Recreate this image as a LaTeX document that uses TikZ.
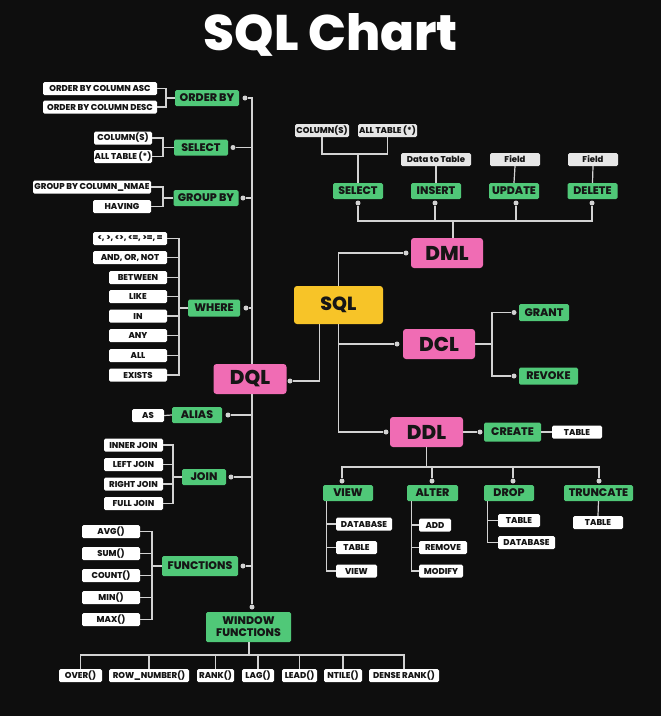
\documentclass[tikz,border=0pt]{standalone}
\usepackage{fontspec}
\setmainfont{Poppins}[BoldFont={Poppins ExtraBold}]
\definecolor{bg}{HTML}{0E0E0E}
\definecolor{ink}{HTML}{161616}
\definecolor{wire}{HTML}{D2D2D2}
\definecolor{paper}{HTML}{E6E6E6}
\definecolor{sqlgreen}{HTML}{50C878}
\definecolor{sqlpink}{HTML}{F06CB4}
\definecolor{sqlyellow}{HTML}{F7C428}
\tikzset{
  box/.style={rounded corners=1.5pt, inner sep=0pt, text=ink, align=center,
    font=\bfseries\fontsize{8.5}{9}\selectfont},
  leaf/.style={box, fill=white, minimum height=13},
  tag/.style={box, fill=paper, minimum height=13},
  cmd/.style={box, fill=sqlgreen, minimum height=16,
    font=\bfseries\fontsize{11}{12}\selectfont},
  lang/.style={box, fill=sqlpink, minimum width=73, minimum height=30,
    rounded corners=3pt, font=\bfseries\fontsize{20}{21}\selectfont},
  link/.style={draw=wire, line width=1.2pt},
  dot/.style={circle, fill=wire, inner sep=0pt, minimum size=5},
}
\begin{document}
\begin{tikzpicture}[x=1pt, y=-1pt]
  \fill[bg] (0,0) rectangle (661,716);
  \useasboundingbox (0,0) rectangle (661,716);
  \node[anchor=base, text=white, font=\bfseries\fontsize{50}{52}\selectfont] (title) at (331,50) {SQL Chart};

  % core
  \node[box, fill=sqlyellow, minimum width=89, minimum height=38, rounded corners=3pt,
    font=\bfseries\fontsize{19}{20}\selectfont] (sql) at (338.5,305) {SQL};
  \node[lang] (dql) at (250,379) {DQL};
  \node[lang, minimum width=72] (dml) at (447,253) {DML};
  \node[lang, minimum width=72] (dcl) at (439,344) {DCL};
  \node[lang] (ddl) at (426.5,432) {DDL};
  \node[dot] (dql-d) at (290,381) {};
  \node[dot] (dml-d) at (406,253) {};
  \node[dot] (dcl-d) at (397,344) {};
  \node[dot] (ddl-d) at (386,432) {};
  \draw[link] (dml-d) -| (sql.north);
  \draw[link] (dql-d) -| ([xshift=-19pt]sql.south);
  \draw[link] (sql.south) |- (ddl-d);
  \draw[link] (dcl-d) -- (dcl-d -| sql.south);

  % DQL
  \node[cmd, minimum width=64] (orderby) at (207,98) {ORDER BY};
  \node[cmd, minimum width=54] (select) at (201,147.5) {SELECT};
  \node[cmd, minimum width=65] (groupby) at (206,198) {GROUP BY};
  \node[cmd, minimum width=52, minimum height=17] (where) at (214,308) {WHERE};
  \node[cmd, minimum width=50] (alias) at (197,415) {ALIAS};
  \node[cmd, minimum width=44] (join) at (204,477) {JOIN};
  \node[cmd, minimum width=76, minimum height=20] (functions) at (200,566) {FUNCTIONS};
  \node[cmd, minimum width=85, minimum height=30] (window) at (248.5,627) {WINDOW\\FUNCTIONS};
  \node[dot] (orderby-d) at (245,98) {};
  \node[dot] (select-d) at (233,147.5) {};
  \node[dot] (groupby-d) at (243,198) {};
  \node[dot] (where-d) at (246,308) {};
  \node[dot] (alias-d) at (228,415) {};
  \node[dot] (join-d) at (231,477) {};
  \node[dot] (functions-d) at (243,566) {};
  \node[dot] (window-d) at (252,607) {};
  \coordinate (trunk) at (252,98);
  \draw[link] (orderby-d) -- (trunk) -- (trunk |- dql.north);
  \draw[link] (dql.south -| trunk) -- (window-d);
  \foreach \n in {select,groupby,where,alias,join,functions}
    \draw[link] (\n-d) -- (\n-d -| trunk);

  \node[leaf, minimum width=114] (asc) at (100,88.5) {ORDER BY COLUMN ASC};
  \node[leaf, minimum width=114] (desc) at (100,107) {ORDER BY COLUMN DESC};
  \coordinate (orderby-b) at (166,98);
  \draw[link] (asc.east) -| (orderby-b) |- (desc.east);
  \draw[link] (orderby-b) -- (orderby.west);

  \node[leaf, minimum width=58] (cols) at (123,138) {COLUMN(S)};
  \node[leaf, minimum width=58] (alltab) at (123,156.5) {ALL TABLE (*)};
  \coordinate (select-b) at (163,147.5);
  \draw[link] (cols.east) -| (select-b) |- (alltab.east);
  \draw[link] (select-b) -- (select.west);

  \node[leaf, minimum width=118] (gbcol) at (92,187) {GROUP BY COLUMN\_NMAE};
  \node[leaf, minimum width=58] (having) at (122,206.5) {HAVING};
  \coordinate (groupby-b) at (163,198);
  \draw[link] (gbcol.east) -| (groupby-b) |- (having.east);
  \draw[link] (groupby-b) -- (groupby.west);

  \node[leaf, minimum width=74] (ops) at (130,238.5) {<, >, <>, <=, >=, =};
  \node[leaf, minimum width=74] (logic) at (130,257.5) {AND, OR, NOT};
  \foreach \n/\y/\t in {between/277.5/BETWEEN, like/296.5/LIKE, in/316/IN,
      any/335.5/ANY, all/355.5/ALL, exists/375/EXISTS}
    \node[leaf, minimum width=58] (\n) at (138,\y) {\t};
  \coordinate (where-b) at (179,308);
  \foreach \n in {ops,logic,between,like,in,any,all,exists}
    \draw[link] (\n.east) -| (where-b);
  \draw[link] (where-b) -- (where.west);

  \node[leaf, minimum width=32] (as) at (148,415.5) {AS};
  \draw[link] (as.east) -- (alias.west);

  \foreach \n/\y/\t in {inner/445/INNER JOIN, left/464.5/LEFT JOIN,
      right/484/RIGHT JOIN, full/503.5/FULL JOIN}
    \node[leaf, minimum width=59] (\n) at (133.5,\y) {\t};
  \coordinate (join-b) at (173,477);
  \foreach \n in {inner,left,right,full}
    \draw[link] (\n.east) -| (join-b);
  \draw[link] (join-b) -- (join.west);

  \foreach \n/\y/\t in {avg/531.5/AVG(), sum/553.5/SUM(), count/575.5/COUNT(),
      min/597.5/MIN(), max/619.5/MAX()}
    \node[leaf, minimum width=58] (\n) at (111,\y) {\t};
  \coordinate (functions-b) at (152,566);
  \foreach \n in {avg,sum,count,min,max}
    \draw[link] (\n.east) -| (functions-b);
  \draw[link] (functions-b) -- (functions.west);

  \foreach \n/\x/\w/\t in {over/80.5/43/OVER(), rownum/149/80/ROW\_NUMBER(),
      rank/215.5/37/RANK(), lag/258/32/LAG(), lead/299.5/35/LEAD(),
      ntile/343/38/NTILE(), dense/404/70/DENSE RANK()}
    \node[leaf, minimum width=\w] (\n) at (\x,675.5) {\t};
  \coordinate (window-b) at (249,655);
  \draw[link] (window-b) -- (window-b |- window.south);
  \foreach \n in {over,rownum,rank,lag,lead,ntile,dense}
    \draw[link] (window-b) -| (\n.north);

  % DML
  \foreach \n/\x/\t in {rselect/358/SELECT, insert/436/INSERT,
      update/514/UPDATE, delete/592.5/DELETE}
    \node[cmd, minimum width=50] (\n) at (\x,191) {\t};
  \foreach \n/\x in {rselect/358, insert/435, update/516, delete/592}
    \node[dot] (\n-d) at (\x,203) {};
  \coordinate (dml-b) at (453,221);
  \draw[link] (dml-b) -- (dml-b |- dml.north);
  \foreach \n in {rselect,insert,update,delete}
    \draw[link] (dml-b) -| (\n-d);
  \node[tag, minimum width=54] (rcols) at (322,130.5) {COLUMN(S)};
  \node[tag, minimum width=59] (ralltab) at (387.5,130.5) {ALL TABLE (*)};
  \coordinate (rselect-b) at (358,154);
  \draw[link] (rcols.south) |- (rselect-b) -| (ralltab.south);
  \draw[link] (rselect-b) -- (rselect.north);
  \node[tag, minimum width=70] (datatab) at (436,159.5) {Data to Table};
  \node[tag, minimum width=50] (ufield) at (515,159.5) {Field};
  \node[tag, minimum width=50] (dfield) at (593,159.5) {Field};
  \draw[link] (insert.north) -- (datatab.south);
  \draw[link] (update.north) -- (ufield.south);
  \draw[link] (delete.north) -- (dfield.south);

  % DCL
  \node[cmd, minimum width=50, minimum height=17] (grant) at (544,312.5) {GRANT};
  \node[cmd, minimum width=59, minimum height=17] (revoke) at (548.5,376) {REVOKE};
  \node[dot] (grant-d) at (514,312.5) {};
  \node[dot] (revoke-d) at (514,376) {};
  \coordinate (dcl-b) at (492,344);
  \draw[link] (dcl.east) -- (dcl-b);
  \draw[link] (grant-d) -| (dcl-b);
  \draw[link] (revoke-d) -| (dcl-b);

  % DDL
  \node[cmd, minimum width=57, minimum height=19] (create) at (512.5,432) {CREATE};
  \node[dot] (create-d) at (480,432) {};
  \node[leaf, minimum width=50] (ctable) at (577,432) {TABLE};
  \draw[link] (ddl.east) -- (create-d);
  \draw[link] (create.east) -- (ctable.west);
  \node[cmd, minimum width=50] (view) at (348,493) {VIEW};
  \node[cmd, minimum width=51] (alter) at (432.5,493) {ALTER};
  \node[cmd, minimum width=50] (drop) at (509,493) {DROP};
  \node[cmd, minimum width=69] (trunc) at (598.5,493) {TRUNCATE};
  \foreach \n/\x in {view/342, alter/432, drop/513, trunc/599}
    \node[dot] (\n-d) at (\x,481) {};
  \coordinate (ddl-b) at (426.5,467);
  \draw[link] (ddl.south) -- (ddl-b);
  \foreach \n in {view,alter,drop,trunc}
    \draw[link] (ddl-b) -| (\n-d);

  \node[leaf, minimum width=56] (vdb) at (364,524) {DATABASE};
  \node[leaf, minimum width=41] (vtable) at (356.5,547.5) {TABLE};
  \node[leaf, minimum width=41] (vview) at (356.5,571) {VIEW};
  \foreach \n in {vdb,vtable,vview}
    \draw[link] ([xshift=4pt]view.south west) |- (\n.west);
  \node[leaf, minimum width=32] (add) at (435,525) {ADD};
  \node[leaf, minimum width=48] (remove) at (443,547.5) {REMOVE};
  \node[leaf, minimum width=44] (modify) at (441,571) {MODIFY};
  \foreach \n in {add,remove,modify}
    \draw[link] ([xshift=5pt]alter.south west) |- (\n.west);
  \node[leaf, minimum width=42] (dtable) at (519,520.5) {TABLE};
  \node[leaf, minimum width=57] (ddb) at (526.5,542.5) {DATABASE};
  \foreach \n in {dtable,ddb}
    \draw[link] ([xshift=4pt]drop.south west) |- (\n.west);
  \node[leaf, minimum width=50] (ttable) at (598,522.5) {TABLE};
  \draw[link] (trunc.south) -- (ttable.north);
\end{tikzpicture}
\end{document}
